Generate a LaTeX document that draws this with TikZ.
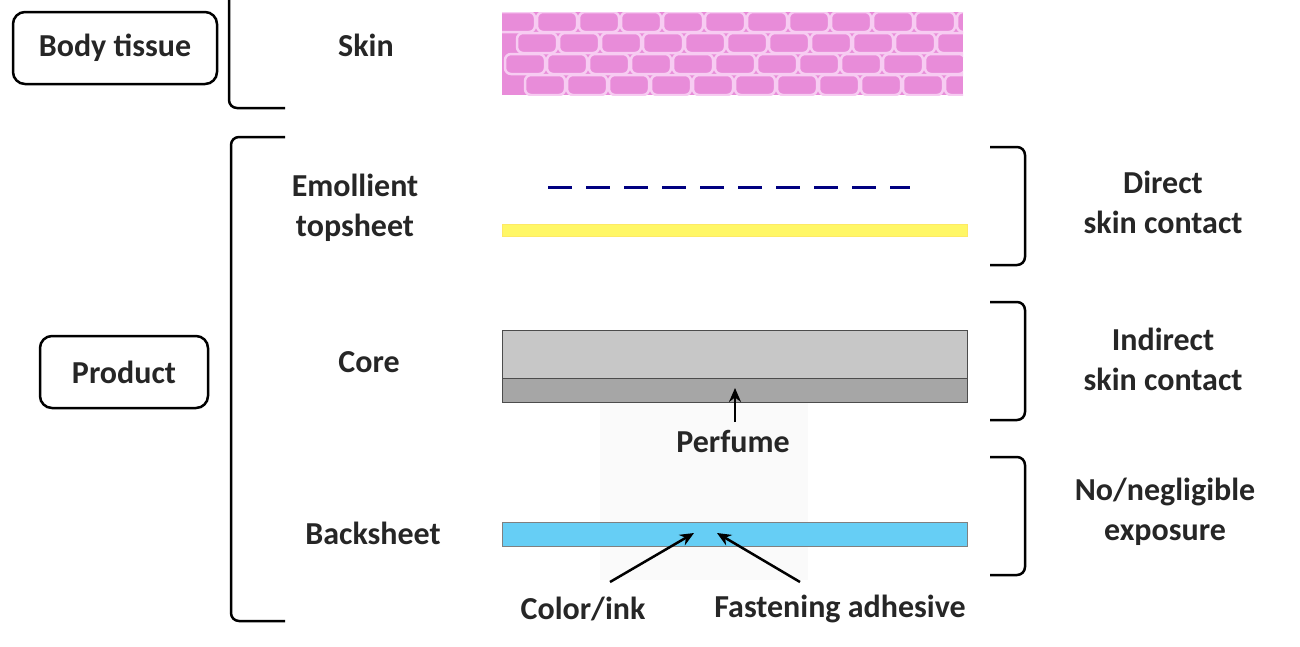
\documentclass[tikz,border=0pt]{standalone}
\usepackage{fontspec}
\setmainfont{Carlito}
\usetikzlibrary{arrows.meta}
\definecolor{skinc}{rgb}{0.91,0.55,0.85}
\definecolor{skinl}{rgb}{0.97,0.80,0.95}
\begin{document}
\begin{tikzpicture}[x=1pt,y=-1pt,
 lbl/.style={font=\fontsize{32}{40}\selectfont\bfseries,align=center,text=black!85},
 tag/.style={draw,line width=2.5pt,rounded corners=12pt,minimum height=72pt},
 brk/.style={line width=2.5pt,rounded corners=8pt},
 arr/.style={line width=2.5pt,-{Stealth[length=14pt,width=12pt]}}]
\useasboundingbox (0,0) rectangle (1300,646);
% tags
\node[tag,minimum width=204pt,lbl] (bt) at (115,48) {Body tissue};
\node[tag,minimum width=168pt,lbl] (pr) at (124,372) {Product};
\draw[brk] (285,-10) -- (229,-10) -- (229,108) -- (285,108);
\draw[brk] (285,137) -- (231,137) -- (231,621) -- (285,621);
% skin
\node[lbl] (skin) at (366,45) {Skin};
\fill[skinc] (502,12) rectangle (963,95);
\begin{scope}
\clip (502,12) rectangle (963,95);
\foreach \r/\o in {0/0,1/22,2/10,3/30}{
 \foreach \i in {0,...,11}{
  \draw[skinl,line width=2.5pt,rounded corners=6pt] (495+\o+\i*42,12+\r*21) rectangle ++(40,20);
 }}
\end{scope}
% layers
\node[lbl] (em) at (355,208) {Emollient\\topsheet};
\draw[blue!50!black,line width=3pt,dash pattern=on 24pt off 14pt] (548,187) -- (910,187);
\draw[yellow!80!orange!60,fill=yellow!60] (502,224) rectangle (967,236);
\node[lbl] (core) at (369,362) {Core};
\fill[black!2] (600,402) rectangle (808,580);
\draw[black!70,fill=black!22] (502,330) rectangle (967,378);
\draw[black!70,fill=black!35] (502,378) rectangle (967,402);
\coordinate (pt) at (735,388);
\node[lbl] (perf) at (733,441) {Perfume};
\draw[arr] (735,422) -- (pt);
\node[lbl] (back) at (373,533) {Backsheet};
\draw[black!50,fill=cyan!60] (502,522) rectangle (967,546);
\coordinate (c1) at (694,533);
\coordinate (c2) at (717,533);
\node[lbl] (ink) at (583,609) {Color/ink};
\node[lbl] (fast) at (840,609) {Fastening adhesive};
\draw[arr] (610,582) -- (c1);
\draw[arr] (800,582) -- (c2);
% right brackets
\draw[brk] (990,147) -- (1025,147) -- (1025,265) -- (990,265);
\draw[brk] (990,302) -- (1025,302) -- (1025,420) -- (990,420);
\draw[brk] (990,457) -- (1025,457) -- (1025,575) -- (990,575);
\node[lbl] (d) at (1163,202) {Direct\\skin contact};
\node[lbl] (i) at (1163,359) {Indirect\\skin contact};
\node[lbl] (n) at (1165,512) {No/negligible\\exposure};
\end{tikzpicture}
\end{document}
